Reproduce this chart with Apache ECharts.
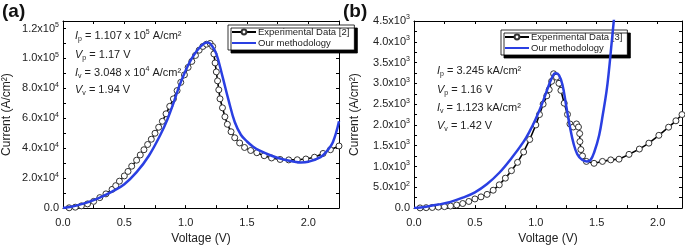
<!DOCTYPE html>
<html><head><meta charset="utf-8">
<script src="https://cdn.jsdelivr.net/npm/echarts@6/dist/echarts.min.js"></script>
<style>html,body{margin:0;padding:0;background:#fff}#c{width:685px;height:250px}</style>
</head><body><div id="c"></div>
<script>
// ---------- Panel (a) data (current in 10^3 A/cm2) ----------
const expA_V = [0.05,0.1,0.15,0.2,0.25,0.3,0.35,0.4,0.43,0.46,0.5,0.53,0.56,0.6,0.63,0.66,0.69,0.72,0.75,0.78,0.81,0.84,0.87,0.9,0.93,0.96,0.99,1.02,1.05,1.08,1.11,1.14,1.17,1.2,1.22,1.23,1.24,1.25,1.26,1.27,1.28,1.3,1.32,1.34,1.37,1.4,1.44,1.48,1.53,1.58,1.64,1.7,1.77,1.84,1.91,1.98,2.05,2.12,2.18,2.25];
const expA_I = [0.2,0.6,1.5,2.8,4.5,7,9.5,12.5,15,18,21.5,24.5,28,32,35.5,39,42.5,46,50,54,58,63,68,73,78.5,84,89,94,98,102,105.5,108,109.5,110,108,103,97,91,85,79,73,67,61,56,51,47,43.5,40.5,38.5,37,35,33.5,32.5,32.2,32.3,32.8,34,36.5,39,41.5];
const modA_V = [0,0.1,0.2,0.3,0.4,0.5,0.6,0.7,0.8,0.85,0.9,0.95,1.0,1.05,1.1,1.15,1.18,1.21,1.25,1.3,1.35,1.4,1.45,1.5,1.55,1.6,1.7,1.8,1.9,1.94,2.0,2.1,2.15,2.2,2.25];
const modA_I = [0,1.5,3.8,7,11,16,24,35,50,59,70,82,92,100,106,110,110.7,109,103,88,72,57.5,49,44.5,41,38.5,35,32.5,30.8,30.48,31,34,38,44,58];
const yTicksA = [0,2e4,4e4,6e4,8e4,1e5,1.2e5];
const yMantA = ['0.0','2.0','4.0','6.0','8.0','1.0','1.2'];
const yExpA = ['','4','4','4','4','5','5'];

// ---------- Panel (b) data (current in A/cm2) ----------
const expB_V = [0.05,0.1,0.15,0.2,0.25,0.3,0.35,0.4,0.45,0.5,0.55,0.6,0.65,0.7,0.75,0.8,0.85,0.9,0.95,1.0,1.03,1.06,1.09,1.11,1.13,1.146,1.17,1.19,1.206,1.233,1.26,1.28,1.307,1.334,1.35,1.36,1.362,1.37,1.383,1.415,1.478,1.547,1.615,1.683,1.765,1.85,1.928,2.01,2.09,2.15,2.2];
const expB_I = [5,10,15,25,35,50,75,110,160,220,270,330,430,560,720,900,1100,1350,1650,2000,2250,2500,2700,2850,3050,3231,3150,3000,2831,2523,2254,2024,1950,2024,1950,1793,1600,1408,1254,1123,1077,1123,1160,1177,1292,1420,1562,1750,1946,2100,2250];
const modB_V = [0,0.1,0.2,0.3,0.4,0.5,0.6,0.7,0.8,0.9,0.95,1.0,1.05,1.1,1.13,1.16,1.19,1.22,1.25,1.28,1.31,1.34,1.38,1.42,1.45,1.48,1.52,1.55,1.58,1.6,1.62,1.64,1.66];
const modB_I = [0,35,85,150,250,380,580,850,1200,1600,1850,2150,2500,2900,3120,3245,3200,2950,2450,1950,1550,1300,1160,1123,1160,1350,1754,2250,2800,3300,3900,4500,5100];
const yTicksB = [0,500,1000,1500,2000,2500,3000,3500,4000,4500];
const yMantB = ['0.0','5.0','1.0','1.5','2.0','2.5','3.0','3.5','4.0','4.5'];
const yExpB = ['','2','3','3','3','3','3','3','3','3'];

const xTicks = [0,0.5,1.0,1.5,2.0];

const TXT = '#222';
const BLUE = '#2a3fe2';
const FONT = 'Liberation Sans, Arial, sans-serif';

function pairs(xs, ys, k) { return xs.map((x, i) => [x, ys[i] * k]); }

function yFmt(ticks, mant, exp) {
  return function (v) {
    const i = ticks.findIndex(t => Math.abs(t - v) < 1e-6 * (ticks[ticks.length-1] || 1));
    if (i < 0) return '';
    if (!exp[i]) return '{m|' + mant[i] + '}';
    return '{m|' + mant[i] + 'x10}{s|' + exp[i] + '}';
  };
}
function xFmt(v) {
  const i = xTicks.findIndex(t => Math.abs(t - v) < 1e-6);
  return i < 0 ? '' : xTicks[i].toFixed(1);
}
const richLab = {
  m: { fontSize: 11, color: TXT, fontFamily: FONT, lineHeight: 14 },
  s: { fontSize: 7, color: TXT, fontFamily: FONT, lineHeight: 8, verticalAlign: 'top' }
};

function xAxes(grid, max) {
  const base = {
    type: 'value', gridIndex: grid, min: 0, max: max, interval: 0.25,
    axisLine: { show: true, onZero: false, lineStyle: { color: '#000', width: 1 } },
    axisTick: { show: true, inside: true, length: 3, lineStyle: { color: '#000' } },
    splitLine: { show: false }
  };
  return [
    Object.assign({}, base, { position: 'bottom',
      axisLabel: { formatter: xFmt, fontSize: 11, color: TXT, fontFamily: FONT, margin: 9 },
      name: 'Voltage (V)', nameLocation: 'middle', nameGap: 23,
      nameTextStyle: { fontSize: 12, color: TXT, fontFamily: FONT } }),
    Object.assign({}, base, { position: 'top', axisLabel: { show: false } })
  ];
}
function yAxes(grid, max, step, ticks, mant, exp, gap) {
  const base = {
    type: 'value', gridIndex: grid, min: 0, max: max, interval: step,
    axisLine: { show: true, onZero: false, lineStyle: { color: '#000', width: 1 } },
    axisTick: { show: true, inside: true, length: 3, lineStyle: { color: '#000' } },
    splitLine: { show: false }
  };
  return [
    Object.assign({}, base, { position: 'left',
      axisLabel: { formatter: yFmt(ticks, mant, exp), rich: richLab, margin: 4 },
      name: 'Current (A/cm²)', nameLocation: 'middle', nameGap: gap,
      nameTextStyle: { fontSize: 12, color: TXT, fontFamily: FONT } }),
    Object.assign({}, base, { position: 'right', axisLabel: { show: false } })
  ];
}

function expSeries(name, xi, yi, data) {
  return { name: name, type: 'line', xAxisIndex: xi, yAxisIndex: yi, data: data,
    symbol: 'circle', symbolSize: 6, showAllSymbol: true,
    lineStyle: { color: '#000', width: 1.6 },
    itemStyle: { color: '#fff', borderColor: '#333', borderWidth: 1 },
    z: 3, animation: false };
}
function modSeries(name, xi, yi, data) {
  return { name: name, type: 'line', xAxisIndex: xi, yAxisIndex: yi, data: data,
    smooth: 0.4, symbol: 'none', lineStyle: { color: BLUE, width: 2.5 },
    itemStyle: { color: BLUE, opacity: 0 }, z: 4, clip: true, animation: false };
}
function legend(left, top, names) {
  return { orient: 'vertical', left: left, top: top, data: names,
    itemWidth: 24, itemHeight: 6, itemGap: 1, padding: [2, 5, 2, 3],
    backgroundColor: '#fff', borderColor: '#000', borderWidth: 0.8,
    shadowColor: '#000', shadowOffsetX: 3, shadowOffsetY: 3, shadowBlur: 0,
    textStyle: { fontSize: 9.5, color: TXT, fontFamily: FONT, padding: [0, 0, 0, -3] } };
}

const richAnn = {
  i: { fontSize: 11, fontStyle: 'italic', fill: TXT, fontFamily: FONT, lineHeight: 14 },
  sub: { fontSize: 7, fill: TXT, fontFamily: FONT, lineHeight: 8, verticalAlign: 'bottom' },
  sup: { fontSize: 7, fill: TXT, fontFamily: FONT, lineHeight: 8, verticalAlign: 'top' },
  n: { fontSize: 11, fill: TXT, fontFamily: FONT, lineHeight: 14 }
};
function ann(x, y, text) {
  return { type: 'text', x: x, y: y, style: { text: text, rich: richAnn, fill: TXT, verticalAlign: 'middle', align: 'left' }, z: 10 };
}

const annA = [
  '{i|I}{sub|p}{n| = 1.107 x 10}{sup|5}{n| A/cm²}',
  '{i|V}{sub|p}{n| = 1.17 V}',
  '{i|I}{sub|v}{n| = 3.048 x 10}{sup|4}{n| A/cm²}',
  '{i|V}{sub|v}{n| = 1.94 V}'
];
const annB = [
  '{i|I}{sub|p}{n| = 3.245 kA/cm²}',
  '{i|V}{sub|p}{n| = 1.16 V}',
  '{i|I}{sub|v}{n| = 1.123 kA/cm²}',
  '{i|V}{sub|v}{n| = 1.42 V}'
];
const annAy = [36, 54.5, 72.5, 90];
const annBy = [71, 89.5, 108, 126];

const chart = echarts.init(document.getElementById('c'), null, { renderer: 'canvas' });
chart.setOption({
  animation: false,
  backgroundColor: '#fff',
  grid: [
    { left: 62, top: 21, width: 277, height: 195 },
    { left: 414, top: 21, width: 269, height: 195 }
  ],
  xAxis: [].concat(xAxes(0, 2.25), xAxes(1, 2.2)),
  yAxis: [].concat(
    yAxes(0, 1.25e5, 1e4, yTicksA, yMantA, yExpA, 50),
    yAxes(1, 4500, 250, yTicksB, yMantB, yExpB, 53)
  ),
  legend: [
    legend(228, 25, ['Experimental Data [2]', 'Our methodology']),
    legend(501, 30, ['Experimental Data [3]', 'Our methodology '])
  ],
  series: [
    expSeries('Experimental Data [2]', 0, 0, pairs(expA_V, expA_I, 1000)),
    modSeries('Our methodology', 0, 0, pairs(modA_V, modA_I, 1000)),
    expSeries('Experimental Data [3]', 2, 2, pairs(expB_V, expB_I, 1)),
    modSeries('Our methodology ', 2, 2, pairs(modB_V, modB_I, 1))
  ],
  graphic: [
    { type: 'text', x: 2, y: 2, style: { text: '(a)', font: 'bold 19px ' + FONT, fill: '#111' } },
    { type: 'text', x: 343, y: 2, style: { text: '(b)', font: 'bold 19px ' + FONT, fill: '#111' } }
  ].concat(annA.map((t, i) => ann(75, annAy[i], t)), annB.map((t, i) => ann(437, annBy[i], t)))
});
</script></body></html>
